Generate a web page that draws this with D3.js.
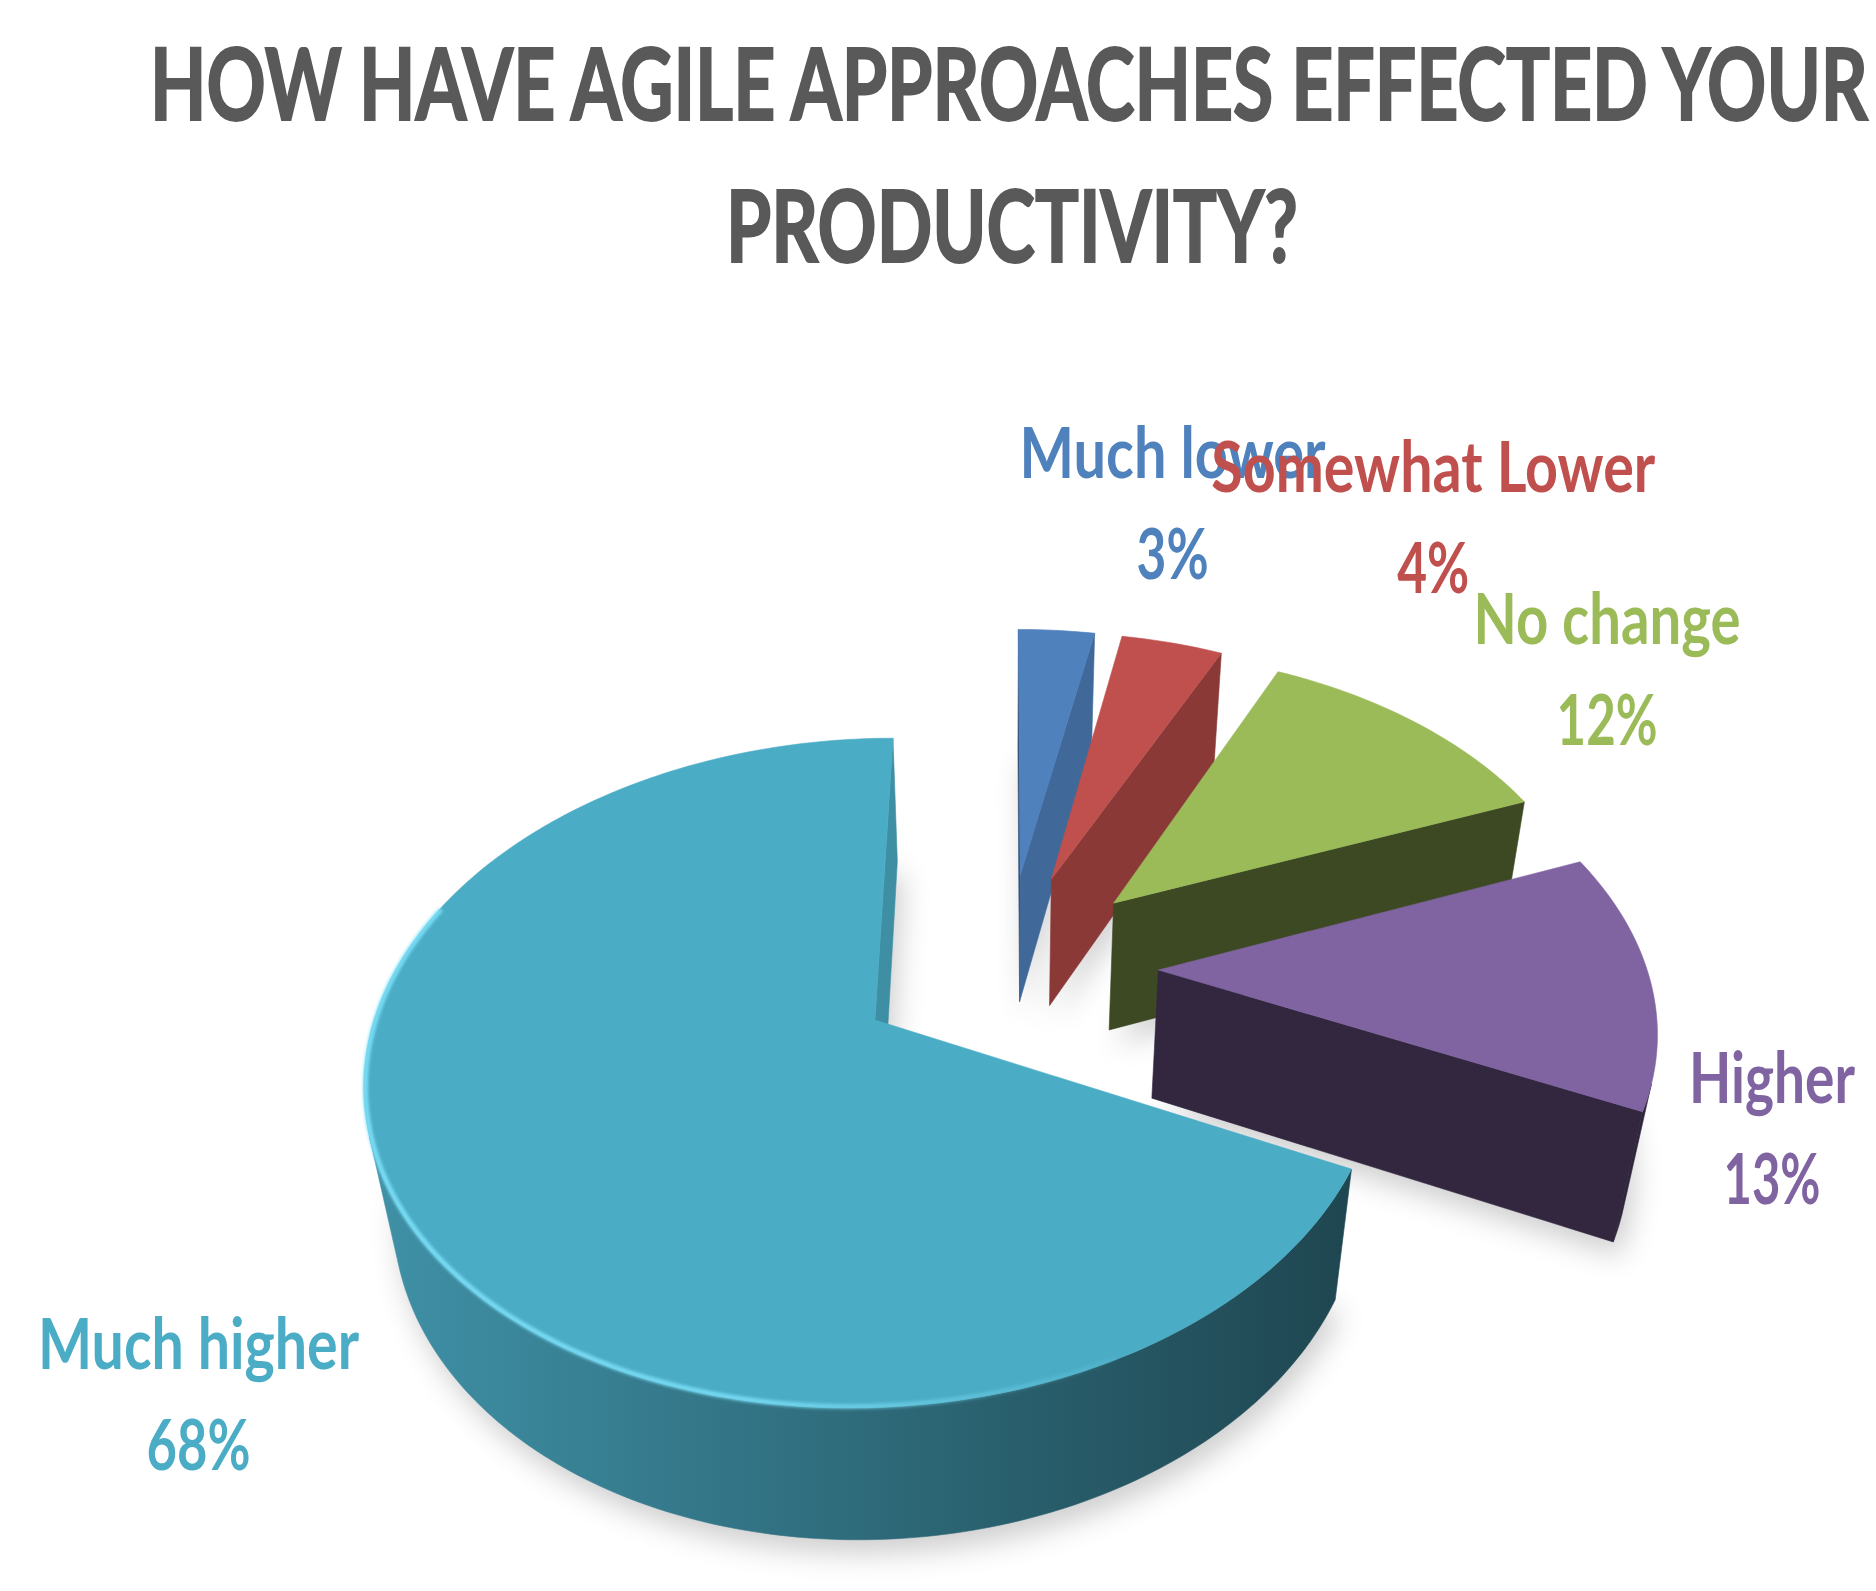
<!DOCTYPE html>
<html lang="en">
<head>
<meta charset="UTF-8">
<script src="https://cdnjs.cloudflare.com/ajax/libs/d3/7.8.5/d3.min.js"></script>
<title>Agile productivity pie</title>
<style>
    body { margin: 0; background: #fff; }
    svg { display: block; }
    text { font-family: Lato, "Noto Sans", "DejaVu Sans Condensed", sans-serif; font-weight: bold; }
</style>
</head>
<body>
<svg id="chart"></svg>
<script>
// data
const categories = ['Much lower', 'Somewhat Lower', 'No change', 'Higher', 'Much higher']
const shares = [3, 4, 12, 13, 68]
const pctLabels = ['3%', '4%', '12%', '13%', '68%']
const titleLines = ['HOW HAVE AGILE APPROACHES EFFECTED YOUR', 'PRODUCTIVITY?']

// style
const colors = ['#4F81BD', '#C0504D', '#9BBB59', '#8064A2', '#4BACC6']
const W = 1876, H = 1591

// camera / 3d pie setup (radius = 1 world unit)
const cam = { cx: 1006.5, cy: 967, F: 2440, D: 5, phi: Math.asin(0.635) }
const explode = 0.311, depth = 0.355
const s = Math.sin(cam.phi), c = Math.cos(cam.phi)
const camPos = [0, cam.D * s, -cam.D * c]

function proj(X, Y, Z) {
    const dep = cam.D - Y * s + Z * c
    const up = Y * c + Z * s
    return [cam.cx + cam.F * X / dep, cam.cy - cam.F * up / dep]
}

function shade(col, f) {
    const r = d3.rgb(col)
    return d3.rgb(r.r * f, r.g * f, r.b * f).formatHex()
}

// brightness of the flat cut faces, by the direction they face
function cutLight(a) {
    let deg = (a * 180 / Math.PI) % 360
    if (deg < 0) deg += 360
    return 0.39 + 0.44 * Math.max(0, Math.cos(1.66 * (deg - 90) * Math.PI / 180))
}

const svg = d3.select('#chart').attr('width', W).attr('height', H)
const defs = svg.append('defs')

defs.append('filter').attr('id', 'soft')
    .attr('x', '-20%').attr('y', '-20%').attr('width', '140%').attr('height', '140%')
    .append('feGaussianBlur').attr('stdDeviation', 14)
defs.append('filter').attr('id', 'glow')
    .append('feGaussianBlur').attr('stdDeviation', 1.6)

// wall gradients, darker toward the right
colors.forEach((col, i) => {
    const g = defs.append('linearGradient').attr('id', 'wall' + i)
        .attr('gradientUnits', 'userSpaceOnUse')
        .attr('x1', 356).attr('x2', 1670).attr('y1', 0).attr('y2', 0)
    ;[[0, 0.85], [0.5, 0.55], [0.75, 0.41], [1, 0.36]].forEach(st => {
        g.append('stop').attr('offset', st[0]).attr('stop-color', shade(col, st[1]))
    })
})
const rim = defs.append('linearGradient').attr('id', 'rim')
    .attr('gradientUnits', 'userSpaceOnUse')
    .attr('x1', 350).attr('x2', 1150).attr('y1', 0).attr('y2', 0)
rim.append('stop').attr('offset', 0).attr('stop-color', '#7fe3fb').attr('stop-opacity', 0.9)
rim.append('stop').attr('offset', 0.5).attr('stop-color', '#7fe3fb').attr('stop-opacity', 0.8)
rim.append('stop').attr('offset', 1).attr('stop-color', '#7fe3fb').attr('stop-opacity', 0)

const arcs = d3.pie().sort(null).value(d => d)(shares)
const line = d3.line()

const slices = arcs.map((a, i) => {
    const mid = (a.startAngle + a.endAngle) / 2
    const off = [explode * Math.sin(mid), explode * Math.cos(mid)]
    const n = Math.max(2, Math.ceil((a.endAngle - a.startAngle) / (Math.PI / 180)))
    const angs = d3.range(n + 1).map(k => a.startAngle + (a.endAngle - a.startAngle) * k / n)
    const pt = (ang, Y, r = 1) => proj(off[0] + r * Math.sin(ang), Y, off[1] + r * Math.cos(ang))
    return { i, a, mid, off, angs, pt, order: off[1] + 0.5 * Math.cos(mid) }
})

// soft shadow under the slices
const shadowG = svg.append('g').attr('filter', 'url(#soft)').attr('opacity', 0.28)
slices.forEach(sl => {
    const pts = [sl.pt(0, -depth, 0)].concat(sl.angs.map(a => sl.pt(a, -depth)))
    shadowG.append('path')
        .attr('d', line(pts) + 'Z')
        .attr('transform', 'translate(6,14)')
        .attr('fill', '#555')
})

// slices back to front
const pieG = svg.append('g')
slices.slice().sort((p, q) => q.order - p.order).forEach(sl => {
    const g = pieG.append('g')
    const col = colors[sl.i]
    const apexTop = sl.pt(0, 0, 0), apexBot = sl.pt(0, -depth, 0)
    const apexW = [sl.off[0], 0, sl.off[1]]
    const toCam = p => [camPos[0] - p[0], camPos[1] - p[1], camPos[2] - p[2]]

    // cut faces
    ;[[sl.a.startAngle, -1], [sl.a.endAngle, 1]].forEach(([ang, side]) => {
        const nrm = side < 0 ? [-Math.cos(ang), 0, Math.sin(ang)] : [Math.cos(ang), 0, -Math.sin(ang)]
        const v = toCam(apexW)
        if (nrm[0] * v[0] + nrm[2] * v[2] <= 0) return
        const nAng = ang + side * Math.PI / 2
        g.append('path')
            .attr('d', line([apexTop, sl.pt(ang, 0), sl.pt(ang, -depth), apexBot]) + 'Z')
            .attr('fill', shade(col, cutLight(nAng)))
            .attr('stroke', shade(col, cutLight(nAng))).attr('stroke-width', 0.6)
    })

    // outer wall, only the runs facing the camera
    let run = []
    const flush = () => {
        if (run.length > 1) {
            const top = run.map(a => sl.pt(a, 0))
            const bot = run.slice().reverse().map(a => sl.pt(a, -depth))
            g.append('path').attr('d', line(top.concat(bot)) + 'Z')
                .attr('fill', 'url(#wall' + sl.i + ')')
                .attr('stroke', 'url(#wall' + sl.i + ')').attr('stroke-width', 0.6)
        }
        run = []
    }
    sl.angs.forEach(a => {
        const p = [sl.off[0] + Math.sin(a), 0, sl.off[1] + Math.cos(a)]
        const v = toCam(p)
        if (Math.sin(a) * v[0] + Math.cos(a) * v[2] > 0) run.push(a)
        else flush()
    })
    flush()

    // top face
    const topPts = [apexTop].concat(sl.angs.map(a => sl.pt(a, 0)))
    g.append('path').attr('d', line(topPts) + 'Z')
        .attr('fill', col).attr('stroke', col).attr('stroke-width', 0.6)

    // light rim on the front edge of the big slice
    if (sl.a.endAngle - sl.a.startAngle > Math.PI) {
        const rimAngs = sl.angs.filter(a => a > Math.PI * 0.85 && a < Math.PI * 1.62)
        g.append('path').attr('d', line(rimAngs.map(a => sl.pt(a, 0, 0.997))))
            .attr('fill', 'none').attr('stroke', 'url(#rim)')
            .attr('stroke-width', 5).attr('filter', 'url(#glow)')
    }
})

// title
const titleG = svg.append('g').attr('fill', '#595959').style('font-size', '100px')
    .attr('stroke', '#595959').attr('stroke-width', 2)
titleG.append('text').attr('x', 150).attr('y', 120)
    .attr('textLength', 1718).attr('lengthAdjust', 'spacingAndGlyphs')
    .text(titleLines[0])
titleG.append('text').attr('x', 726).attr('y', 262)
    .attr('textLength', 572).attr('lengthAdjust', 'spacingAndGlyphs')
    .text(titleLines[1])

// data labels: anchored at the outer middle of each slice, then nudged
const labelShift = [[116, -152], [261, -151], [191, -79], [122, 123], [-202, 158]]
const nameWidth = [306, 444, 267, 166, 321]
const pctWidth = [72, 72, 101, 97, 104]
const labelG = svg.append('g').style('font-size', '70px').attr('text-anchor', 'middle')
slices.forEach(sl => {
    const anchor = sl.pt(sl.mid, 0)
    const x = anchor[0] + labelShift[sl.i][0], y = anchor[1] + labelShift[sl.i][1]
    labelG.append('text').attr('x', x).attr('y', y).attr('fill', colors[sl.i])
        .attr('textLength', nameWidth[sl.i]).attr('lengthAdjust', 'spacingAndGlyphs')
        .text(categories[sl.i])
    labelG.append('text').attr('x', x).attr('y', y + 101).attr('fill', colors[sl.i])
        .attr('textLength', pctWidth[sl.i]).attr('lengthAdjust', 'spacingAndGlyphs')
        .text(pctLabels[sl.i])
})
</script>
</body>
</html>
